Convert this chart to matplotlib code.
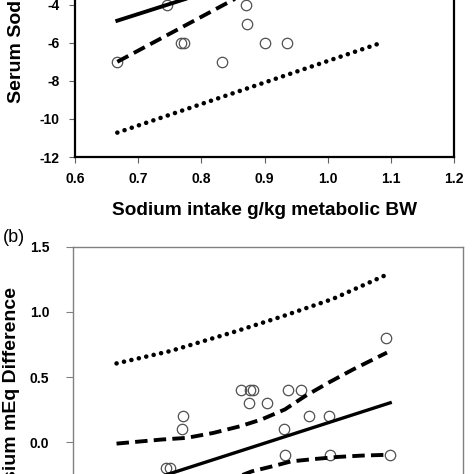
import numpy as np
import matplotlib.pyplot as plt

plt.rcParams['font.family'] = ['Liberation Sans', 'DejaVu Sans']

W = 474.0  # tamaño de la figura en pixeles

# ---- panel (a): sodio ----
a_x = [0.667, 0.745, 0.768, 0.772, 0.832, 0.870, 0.873, 0.900, 0.935]
a_y = [-7, -4, -6, -6, -7, -4, -5, -6, -6]
a_fit_x = [0.667, 1.085]
a_fit_y = [-4.84, -0.42]
a_ci_x = [0.667, 0.756, 0.850, 0.870]
a_ci_y = [-7.0, -5.42, -3.75, -3.45]
a_pi_x = [0.667, 1.085]
a_pi_y = [-10.72, -6.0]

# ---- panel (b): potasio ----
b_x = [1.0815, 0.858, 0.873, 0.877, 0.870, 0.898, 0.931, 0.950, 0.769, 0.767,
       0.925, 0.963, 0.994, 0.926, 0.995, 1.088, 0.743, 0.749]
b_y = [0.8, 0.4, 0.4, 0.4, 0.3, 0.3, 0.4, 0.4, 0.2, 0.1,
       0.1, 0.2, 0.2, -0.1, -0.1, -0.1, -0.2, -0.2]
b_fit_x = [0.667, 1.088]
b_fit_y = [-0.372, 0.303]
b_ciu_x = [0.667, 0.736, 0.775, 0.816, 0.857, 0.890, 0.926, 0.957, 0.993, 1.031, 1.083]
b_ciu_y = [-0.01, 0.021, 0.034, 0.072, 0.123, 0.175, 0.252, 0.354, 0.457, 0.559, 0.688]
b_cil_x = [0.667, 0.750, 0.820, 0.875, 0.906, 0.936, 0.972, 1.008, 1.044, 1.083]
b_cil_y = [-0.73, -0.52, -0.33, -0.223, -0.185, -0.146, -0.128, -0.112, -0.102, -0.096]
b_piu_x = [0.667, 0.75, 0.85, 0.924, 1.0, 1.081]
b_piu_y = [0.605, 0.70, 0.85, 0.969, 1.10, 1.282]

xticks = [0.6, 0.7, 0.8, 0.9, 1.0, 1.1, 1.2]
a_yticks = [-12, -10, -8, -6, -4]
b_yticks = [0.0, 0.5, 1.0, 1.5]

fig = plt.figure(figsize=(4.74, 4.74), dpi=100)

def px(l, r, t, b):
    return [l / W, 1 - b / W, (r - l) / W, (b - t) / W]

lw = 2.8
dot = dict(color='black', lw=3.3, linestyle=(0, (0.01, 1.65)), dash_capstyle='round', zorder=3)
dash = dict(color='black', lw=lw, linestyle=(0, (3.2, 1.6)), zorder=3)
solid = dict(color='black', lw=lw, zorder=3)
circ = dict(linestyle='none', marker='o', ms=7.5, mfc='none', mec='#505050', mew=0.9, zorder=2)

# panel a (cortado arriba)
ax1 = fig.add_axes(px(75, 454, 157 - 14 * 19.04, 157))
ax1.plot(a_x, a_y, **circ)
ax1.plot(a_fit_x, a_fit_y, **solid)
ax1.plot(a_ci_x, a_ci_y, **dash)
ax1.plot(a_pi_x, a_pi_y, **dot)
ax1.set_xlim(0.6, 1.2)
ax1.set_ylim(-12, 2)
ax1.set_xticks(xticks)
ax1.set_xticklabels(['%.1f' % v for v in xticks])
ax1.set_yticks(a_yticks)
ax1.set_yticklabels([str(v) for v in a_yticks])
for s in ['top', 'right', 'left', 'bottom']:
    ax1.spines[s].set_linewidth(1.6)
    ax1.spines[s].set_color('black')
ax1.tick_params(direction='out', length=4, width=0.8, color='#606060',
                labelsize=10, pad=7)
for t in ax1.get_xticklabels() + ax1.get_yticklabels():
    t.set_fontweight('bold')

fig.text(264.5 / W, 1 - 215 / W, 'Sodium intake g/kg metabolic BW',
         ha='center', va='baseline', fontsize=13.7, fontweight='bold')
fig.text(17 / W, 1 - 103 / W, 'Serum Sodium mEq Difference', rotation=90,
         ha='center', va='bottom', fontsize=14, fontweight='bold')

# panel b (cortado abajo)
ax2 = fig.add_axes(px(73, 463, 246.7, 572.7))
ax2.plot(b_x, b_y, **circ)
ax2.plot(b_fit_x, b_fit_y, color='black', lw=2.4, zorder=3)
ax2.plot(b_ciu_x, b_ciu_y, **dash)
ax2.plot(b_cil_x, b_cil_y, **dash)
ax2.plot(b_piu_x, b_piu_y, **dot)
ax2.set_xlim(0.6, 1.2)
ax2.set_ylim(-1.0, 1.5)
ax2.set_xticks(xticks)
ax2.set_yticks(b_yticks)
ax2.set_yticklabels(['%.1f' % v for v in b_yticks])
for s in ['top', 'right', 'left', 'bottom']:
    ax2.spines[s].set_linewidth(1.0)
    ax2.spines[s].set_color('#808080')
ax2.tick_params(direction='out', length=5, width=0.8, color='#808080',
                labelsize=10, pad=12)
ax2.tick_params(axis='x', labelbottom=False)
for t in ax2.get_yticklabels():
    t.set_fontweight('bold')

fig.text(14 / W, 1 - 237 / W, '(b)', ha='center', va='center', fontsize=13)
fig.text(12 / W, 1 - 287 / W, 'Potassium mEq Difference', rotation=90,
         ha='center', va='top', fontsize=14, fontweight='bold')

fig.savefig('out.png', dpi=100)
